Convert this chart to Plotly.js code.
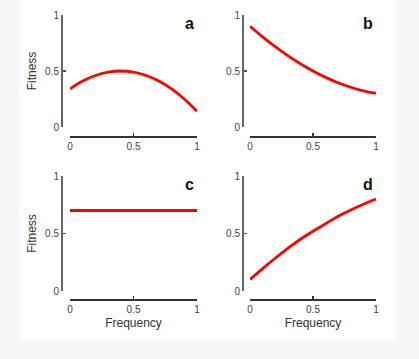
<!DOCTYPE html>
<html><head><meta charset="utf-8">
<script src="https://cdn.plot.ly/plotly-3.0.1.min.js"></script>
<style>html,body{margin:0;padding:0;background:#f8f8f8}</style>
</head><body><div id="chart" style="width:419px;height:359px"></div>
<script>
const freq = [0,0.1,0.2,0.3,0.4,0.5,0.6,0.7,0.8,0.9,1];
const fitA = [0.34,0.41,0.46,0.49,0.50,0.49,0.46,0.41,0.34,0.25,0.14];
const fitB = [0.90,0.805,0.718,0.638,0.565,0.50,0.443,0.395,0.355,0.323,0.30];
const fitC = [0.70,0.70,0.70,0.70,0.70,0.70,0.70,0.70,0.70,0.70,0.70];
const fitD = [0.10,0.195,0.285,0.37,0.45,0.52,0.585,0.65,0.705,0.755,0.80];
const panelLabels = ['a','b','c','d'];
const tickVals = [0,0.5,1];
const tickText = ['0','0.5','1'];
const xTitle = 'Frequency';
const yTitle = 'Fitness';

const W=419,H=359;
const fx = p=>p/W, fy = p=>1-p/H;
const series=[fitA,fitB,fitC,fitD];
const traces = series.map((s,i)=>({
  x:freq,y:s,type:'scatter',mode:'lines',line:{color:'#ff0000',width:2.8,shape:'spline'},
  xaxis:'x'+(i?i+1:''),yaxis:'y'+(i?i+1:''),hoverinfo:'skip',cliponaxis:false
}));
const geo=[
 {x0:70,x1:197,yTop:15,yBot:127,xLine:136,yLine:62},
 {x0:250,x1:376,yTop:15,yBot:127,xLine:136,yLine:243},
 {x0:70,x1:197,yTop:176,yBot:291,xLine:299,yLine:62},
 {x0:250,x1:376,yTop:176,yBot:291,xLine:299,yLine:243}
];
const FF='Liberation Sans, Arial, sans-serif';
const tf={family:FF,size:10,color:'#444'};
const layout={width:W,height:H,margin:{l:0,r:0,t:0,b:0},paper_bgcolor:'#f8f8f8',plot_bgcolor:'rgba(0,0,0,0)',
 showlegend:false,shapes:[{type:'rect',xref:'paper',yref:'paper',x0:fx(20),x1:fx(396),y0:fy(339),y1:1,fillcolor:'#ffffff',line:{width:0},layer:'below'}],
 annotations:[]};
geo.forEach((g,i)=>{
  const s=i?i+1:'';
  layout['xaxis'+s]={domain:[fx(g.x0),fx(g.x1)],anchor:'free',position:fy(g.xLine),range:[0,1],
    tickvals:tickVals,ticktext:tickText,ticks:'inside',ticklen:3,tickwidth:1.2,tickcolor:'#333',
    showline:true,linecolor:'#333',linewidth:1.5,showgrid:false,zeroline:false,tickfont:tf,fixedrange:true,
    title: i>=2?{text:xTitle,font:{family:FF,size:12,color:'#333'},standoff:5}:{text:''}};
  layout['yaxis'+s]={domain:[fy(g.yBot),fy(g.yTop)],anchor:'free',position:fx(g.yLine),range:[0,1],
    tickvals:tickVals,ticktext:tickText,ticks:'inside',ticklen:3,tickwidth:1.2,tickcolor:'#555',
    showline:true,linecolor:'#666',linewidth:2,showgrid:false,zeroline:false,tickfont:tf,fixedrange:true,
    title: (i%2===0)?{text:yTitle,font:{family:FF,size:12,color:'#333'},standoff:5}:{text:''}};
  layout.annotations.push({text:'<b>'+panelLabels[i]+'</b>',xref:'paper',yref:'paper',
    x:fx(g.x1-8),y:fy(g.yTop+8),showarrow:false,xanchor:'center',yanchor:'middle',
    font:{family:FF,size:16,color:'#111'}});
});
Plotly.newPlot('chart',traces,layout,{displayModeBar:false,staticPlot:true});
</script></body></html>
